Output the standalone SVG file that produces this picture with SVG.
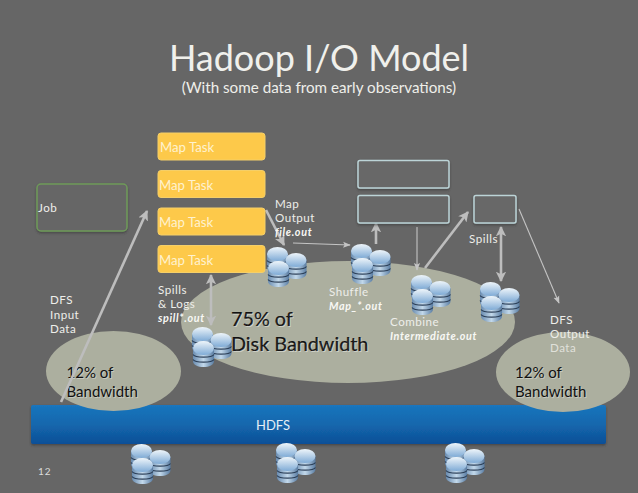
<svg xmlns="http://www.w3.org/2000/svg" xmlns:xlink="http://www.w3.org/1999/xlink" width="638" height="493" viewBox="0 0 638 493">
<style>
text{font-family:Lato,"Open Sans","Liberation Sans",sans-serif}
.w{fill:#eeeeea;font-size:11.6px;letter-spacing:.5px}
.b{fill:#f8f8f4;font-size:10.8px;font-weight:700;font-style:italic;letter-spacing:.65px}
.k{fill:#111;font-size:15px;text-shadow:1px 1px 0 rgba(255,255,255,.35)}
.big{fill:#111;font-size:19.8px;text-shadow:1px 1px 0 rgba(255,255,255,.4);stroke:#111;stroke-width:.2px}
.task{fill:#fdc94a;stroke:#f5cf68;stroke-width:1}
.tt{fill:#fff2cf;font-size:13.2px}
.ell{fill:#acaf9f}
.hollow{fill:#676767;stroke:#bcd4d7;stroke-width:1.5;filter:url(#sh)}
.thick{stroke:#bdbdbd;stroke-width:2.6;fill:none}
.thin{stroke:#c4c4c4;stroke-width:1.1;fill:none}
</style>
<defs>
<filter id="sh" x="-10%" y="-10%" width="120%" height="130%"><feDropShadow dx="0" dy="1.5" stdDeviation="1" flood-color="#333" flood-opacity=".6"/></filter>
<linearGradient id="hd" x1="0" y1="0" x2="0" y2="1"><stop offset="0" stop-color="#1a75bd"/><stop offset=".5" stop-color="#1467ad"/><stop offset="1" stop-color="#0d4f97"/></linearGradient>
<linearGradient id="top" x1="0" y1="0" x2="0" y2="1"><stop offset="0" stop-color="#eef5fa"/><stop offset="1" stop-color="#7fabd6"/></linearGradient>
<linearGradient id="side" x1="0" y1="0" x2="1" y2="0"><stop offset="0" stop-color="#6a8cb0"/><stop offset=".5" stop-color="#c2d8ea"/><stop offset="1" stop-color="#5a7da3"/></linearGradient>
<marker id="ah" viewBox="0 0 10 10" refX="9" refY="5" markerWidth="4" markerHeight="4" orient="auto-start-reverse"><path d="M0 0L10 5L0 10L2.5 5Z" fill="#bdbdbd"/></marker>
<marker id="as" viewBox="0 0 10 10" refX="9" refY="5" markerWidth="7" markerHeight="7" orient="auto-start-reverse"><path d="M0 1L10 5L0 9L2 5Z" fill="#c4c4c4"/></marker>
<g id="cyl">
<path d="M0 7V20C0 24 5 26 10.500 26S21 24 21 20V7Z" fill="url(#side)"/>
<path d="M0 13.500C2 17 19 17 21 13.500M0 18.500C2 22 19 22 21 18.500" fill="none" stroke="#2c3f57" stroke-width="1.100"/>
<ellipse cx="10.500" cy="7" rx="10.500" ry="7" fill="url(#top)"/>
</g>
<g id="stack">
<use xlink:href="#cyl" href="#cyl" x="0" y="0"/>
<use xlink:href="#cyl" href="#cyl" x="18.500" y="6"/>
<use xlink:href="#cyl" href="#cyl" x="1" y="14"/>
</g>
</defs>
<rect width="638" height="493" fill="#666"/>
<g id="title">
<text x="319" y="71" text-anchor="middle" fill="#f0f0ec" style="font-size:36px">Hadoop I/O Model</text>
<text x="319" y="93" text-anchor="middle" fill="#efefea" style="font-size:15.200px">(With some data from early observations)</text>
</g>
<g id="hdfs"><rect x="31" y="405" width="575" height="39" rx="2" fill="url(#hd)" filter="url(#sh)"/><text x="273" y="430" text-anchor="middle" fill="#e4eef6" style="font-size:13px">HDFS</text></g>
<g id="disk-ellipse"><ellipse class="ell" cx="348" cy="322" rx="167" ry="61"/><text class="big" x="231" y="326">75% of</text><text class="big" x="231" y="351">Disk Bandwidth</text></g>
<g id="left-ellipse"><ellipse class="ell" cx="113.500" cy="371" rx="67.500" ry="40"/><text class="k" x="66.500" y="378">12% of</text><text class="k" x="66.500" y="397">Bandwidth</text></g>
<g id="right-ellipse"><ellipse class="ell" cx="563" cy="372" rx="67" ry="40"/><text class="k" x="515" y="378">12% of</text><text class="k" x="515" y="397">Bandwidth</text></g>
<g id="connectors">
<path class="thick" d="M61 402L147 211" marker-end="url(#ah)"/>
<path class="thick" d="M266 210L284 245" marker-end="url(#ah)"/>
<path class="thick" d="M211 325V275" marker-start="url(#ah)" marker-end="url(#ah)"/>
<path class="thin" d="M293 243L350 245" marker-end="url(#as)"/>
<path class="thick" d="M376 244V223" marker-end="url(#ah)"/>
<path class="thin" d="M417 227V270" marker-end="url(#as)"/>
<path class="thick" d="M425 268L468 212" marker-end="url(#ah)"/>
<path class="thick" d="M501 281V227" marker-start="url(#ah)" marker-end="url(#ah)"/>
<path class="thin" d="M519 209L559 303" marker-end="url(#as)"/>
</g>
<g id="job"><rect x="37" y="184" width="90" height="47" rx="4" fill="#666" stroke="#6f9a5a" stroke-width="1.500" filter="url(#sh)"/><text class="w" x="38" y="212">Job</text></g>
<g id="map-task-1"><rect class="task" x="158" y="133" width="107" height="27" rx="3"/><text class="tt" x="160" y="152">Map Task</text></g>
<g id="map-task-2"><rect class="task" x="158" y="170.500" width="107" height="27" rx="3"/><text class="tt" x="159" y="190">Map Task</text></g>
<g id="map-task-3"><rect class="task" x="158" y="208" width="107" height="27" rx="3"/><text class="tt" x="159" y="227">Map Task</text></g>
<g id="map-task-4"><rect class="task" x="158" y="245.500" width="107" height="27" rx="3"/><text class="tt" x="159" y="265">Map Task</text></g>
<g id="box-1"><rect class="hollow" x="358" y="160.500" width="91" height="27.500" rx="2"/></g>
<g id="box-2"><rect class="hollow" x="358" y="195.500" width="91" height="27.500" rx="2"/></g>
<g id="box-3"><rect class="hollow" x="474" y="195.500" width="42" height="27.500" rx="2"/></g>
<g id="disks">
<use xlink:href="#stack" href="#stack" x="267" y="247"/>
<use xlink:href="#stack" href="#stack" x="351" y="244"/>
<use xlink:href="#stack" href="#stack" x="411" y="275"/>
<use xlink:href="#stack" href="#stack" x="480" y="282"/>
<use xlink:href="#stack" href="#stack" x="192" y="327"/>
<use xlink:href="#stack" href="#stack" x="131" y="444"/>
<use xlink:href="#stack" href="#stack" x="276" y="443"/>
<use xlink:href="#stack" href="#stack" x="445" y="443"/>
</g>
<g id="labels">
<text class="w" x="275" y="208">Map</text><text class="w" x="275" y="222">Output</text><text class="b" x="275" y="236">file.out</text>
<text class="w" x="158" y="294">Spills</text><text class="w" x="158" y="308">&amp; Logs</text><text class="b" x="158" y="322">spill*.out</text>
<text class="w" x="50" y="304">DFS</text><text class="w" x="50" y="319">Input</text><text class="w" x="50" y="333">Data</text>
<text class="w" x="329" y="296">Shuffle</text><text class="b" x="329" y="310">Map_*.out</text>
<text class="w" x="390" y="326">Combine</text><text class="b" x="390" y="340">Intermediate.out</text>
<text class="w" x="469" y="243">Spills</text>
<text class="w" x="550" y="324">DFS</text><text class="w" x="550" y="338">Output</text><text class="w" x="550" y="352" fill-opacity=".8">Data</text>
<text x="38" y="475" fill="#dcdcdc" style="font-size:10px;letter-spacing:1px">12</text>
</g>
</svg>
